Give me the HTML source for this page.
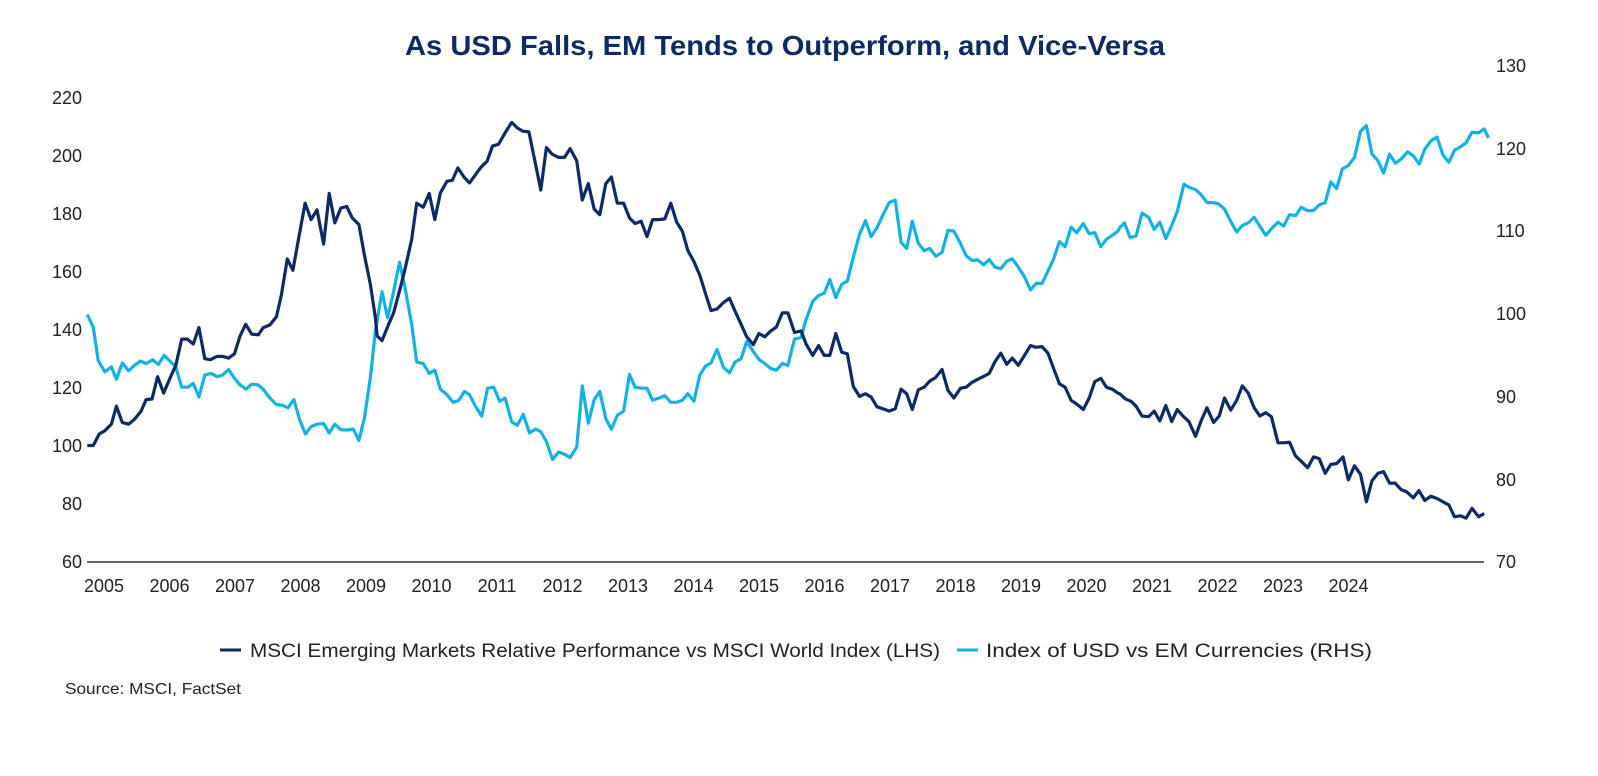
<!DOCTYPE html>
<html><head><meta charset="utf-8"><style>
html,body{margin:0;padding:0;background:#fff;}
svg{display:block;}
text{font-family:"Liberation Sans",sans-serif;}
</style></head><body>
<svg id="s" width="1598" height="776" viewBox="0 0 1598 776" xmlns="http://www.w3.org/2000/svg">
<text x="785" y="55" text-anchor="middle" font-size="28" font-weight="bold" fill="#0d2a66" textLength="760" lengthAdjust="spacingAndGlyphs">As USD Falls, EM Tends to Outperform, and Vice-Versa</text>
<g font-size="18" fill="#222" text-anchor="end">
<text x="82" y="104">220</text><text x="82" y="162">200</text><text x="82" y="220">180</text><text x="82" y="278">160</text><text x="82" y="336">140</text><text x="82" y="394">120</text><text x="82" y="452">100</text><text x="82" y="510">80</text><text x="82" y="568">60</text>
</g>
<g font-size="18" fill="#222" text-anchor="start">
<text x="1496" y="72">130</text><text x="1496" y="155">120</text><text x="1496" y="237">110</text><text x="1496" y="320">100</text><text x="1496" y="403">90</text><text x="1496" y="486">80</text><text x="1496" y="568">70</text>
</g>
<g id="years" font-size="18" fill="#222" text-anchor="middle"></g>
<line x1="87" y1="562" x2="1484" y2="562" stroke="#333" stroke-width="1.5"/>
<polyline id="cy" fill="none" stroke="#14b1e7" stroke-width="3.2" stroke-linejoin="round"/>
<polyline id="dk" fill="none" stroke="#0d2a66" stroke-width="3.2" stroke-linejoin="round"/>
<line x1="220" y1="650" x2="241" y2="650" stroke="#0d2a66" stroke-width="3"/>
<text x="250" y="657" font-size="19" fill="#222" textLength="690" lengthAdjust="spacingAndGlyphs">MSCI Emerging Markets Relative Performance vs MSCI World Index (LHS)</text>
<line x1="957" y1="650" x2="978" y2="650" stroke="#14b1e7" stroke-width="3"/>
<text x="986" y="657" font-size="19" fill="#222" textLength="386" lengthAdjust="spacingAndGlyphs">Index of USD vs EM Currencies (RHS)</text>
<text x="65" y="694" font-size="16" fill="#222" textLength="176" lengthAdjust="spacingAndGlyphs">Source: MSCI, FactSet</text>
</svg>
<script>
var NS="http://www.w3.org/2000/svg";
var yg=document.getElementById("years");
for(var i=0;i<20;i++){var t=document.createElementNS(NS,"text");t.setAttribute("x",104+i*65.5);t.setAttribute("y",592);t.textContent=2005+i;yg.appendChild(t);}
var offs=[80,430,780,1130];
var dark=[
[[22,1090],[40,1090],[58,1055],[75,1045],[95,1025],[110,970],[128,1020],[147,1025],[165,1010],[185,985],[200,950],[218,948],[235,880],[253,930],[270,890],[290,845],[308,765],[325,765],[343,780],[360,730],[378,825],[395,828],[415,818],[432,818],[450,823],[468,810],[485,755],[502,720],[520,750],[540,752],[555,730],[575,722],[595,697],[610,630],[628,520],[645,555],[662,460],[682,350],[700,400],[718,370],[738,475],[755,320],[772,410],[790,365],[808,360],[825,395],[845,415],[862,510],[880,600],[895,700],[900,755],[915,770],[935,720],[950,685],[970,610],[985,550],[1005,460],[1020,350],[1040,362],[1058,320]],
[[25,400],[42,318],[62,283],[78,280],[95,242],[113,270],[130,288],[148,263],[165,240],[183,222],[200,175],[218,170],[238,135],[258,103],[275,120],[292,130],[310,132],[328,220],[346,310],[363,180],[380,200],[400,210],[418,210],[435,183],[455,220],[472,340],[490,290],[508,368],[525,385],[543,290],[560,270],[578,350],[597,350],[615,395],[632,412],[650,405],[668,452],[685,400],[705,400],[722,398],[740,350],[758,408],[775,435],[792,495],[810,528],[828,570],[845,625],[862,678],[880,673],[900,653],[918,640],[935,680],[953,720],[970,758],[990,782],[1007,748],[1025,758],[1043,740],[1060,728]],
[[28,685],[45,685],[65,745],[85,740],[100,780],[120,815],[138,785],[155,815],[172,815],[190,748],[208,805],[225,810],[243,910],[262,940],[280,932],[297,942],[315,972],[333,978],[352,985],[370,978],[388,918],[405,932],[422,980],[440,920],[458,912],[475,893],[492,883],[512,858],[530,922],[548,945],[568,915],[585,912],[603,897],[620,888],[640,878],[655,870],[672,835],[690,808],[708,842],[725,823],[743,845],[762,815],[780,785],[797,790],[815,788],[833,808],[850,855],[868,902],[885,912],[903,952],[922,965],[940,980],[958,945],[975,895],[993,885],[1010,912],[1028,918],[1045,930]],
[[0,932],[18,948],[35,955],[50,970],[68,1000],[88,1002],[105,985],[122,1015],[140,968],[158,1017],[175,980],[192,1000],[210,1017],[230,1062],[247,1015],[265,975],[285,1020],[302,1000],[318,945],[337,982],[355,952],[372,908],[390,930],[408,975],[425,1000],[443,990],[460,1002],[480,1082],[498,1082],[515,1080],[533,1122],[550,1138],[570,1158],[588,1125],[605,1130],[623,1175],[640,1148],[658,1145],[677,1125],[693,1195],[712,1152],[730,1178],[748,1262],[765,1198],[783,1175],[800,1170],[818,1205],[835,1205],[853,1225],[870,1232],[890,1250],[907,1228],[925,1258],[943,1245],[962,1252],[980,1262],[998,1272],[1015,1308],[1033,1305],[1050,1312],[1068,1282],[1088,1308],[1105,1298]]];
var cyan=[
[[22,690],[40,730],[55,830],[75,865],[95,850],[110,888],[128,838],[147,862],[165,845],[183,832],[200,840],[220,828],[237,843],[255,815],[272,832],[290,850],[308,912],[327,912],[343,900],[360,942],[378,875],[397,870],[415,880],[432,875],[450,858],[468,885],[485,905],[503,918],[520,903],[540,905],[555,918],[575,945],[595,965],[612,967],[630,975],[648,950],[665,1010],[683,1055],[700,1032],[718,1025],[738,1023],[755,1052],[772,1025],[790,1042],[808,1043],[828,1040],[845,1075],[862,1005],[880,880],[895,740],[915,620],[932,700],[950,620],[968,530],[985,610],[1005,720],[1020,835],[1040,840],[1058,870]],
[[25,860],[42,918],[62,935],[80,958],[97,953],[115,925],[130,935],[148,970],[167,1000],[185,915],[203,912],[222,955],[238,945],[258,1018],[275,1028],[293,995],[312,1052],[330,1040],[346,1048],[363,1078],[382,1133],[400,1110],[418,1117],[435,1127],[455,1095],[472,908],[490,1022],[508,950],[525,925],[543,1008],[560,1040],[578,998],[597,985],[615,873],[632,912],[650,915],[668,915],[685,952],[705,945],[722,938],[740,958],[758,958],[775,952],[792,932],[810,955],[828,875],[845,848],[862,838],[880,797],[900,852],[918,868],[935,835],[953,825],[970,772],[990,803],[1008,828],[1025,840],[1043,855],[1060,860]],
[[28,840],[45,845],[65,765],[85,760],[100,705],[120,650],[138,632],[155,625],[172,583],[190,638],[208,598],[225,588],[243,515],[262,445],[280,403],[297,452],[315,425],[333,385],[352,348],[370,340],[388,470],[405,488],[422,405],[440,472],[458,495],[475,488],[493,512],[512,500],[530,433],[548,435],[568,473],[585,510],[603,525],[620,523],[638,538],[655,522],[672,545],[690,550],[708,527],[725,520],[743,545],[762,575],[780,615],[797,595],[815,595],[833,557],[850,520],[868,467],[885,483],[903,423],[920,440],[940,412],[958,443],[975,440],[993,483],[1010,460],[1028,448],[1045,435]],
[[0,425],[15,410],[32,455],[50,450],[68,380],[88,393],[105,430],[122,408],[140,458],[158,418],[175,375],[195,292],[212,302],[230,308],[248,325],[265,348],[282,348],[300,352],[318,368],[338,408],[355,438],[372,418],[390,410],[408,393],[425,420],[443,448],[460,428],[480,408],[497,420],[515,385],[533,388],[550,362],[570,373],[588,372],[605,355],[623,348],[640,285],[658,305],[675,245],[693,235],[712,210],[730,130],[748,113],[765,200],[783,220],[800,258],[818,200],[836,228],[853,215],[873,193],[890,205],[908,230],[925,185],[943,160],[962,148],[980,203],[998,225],[1015,188],[1033,178],[1050,165],[1068,133],[1088,135],[1105,123],[1118,150]]];
function build(segs){var pts=[],last=-1;for(var s=0;s<4;s++){segs[s].forEach(function(p){var xr=offs[s]+p[0]/3,yr=90+p[1]/3;var x=87+(xr-87)*0.99;var y=125+(yr-127)*0.982;if(x>last){pts.push(x.toFixed(1)+","+y.toFixed(1));last=x;}});}return pts.join(" ");}
document.getElementById("dk").setAttribute("points",build(dark));
document.getElementById("cy").setAttribute("points",build(cyan));
</script>
</body></html>
